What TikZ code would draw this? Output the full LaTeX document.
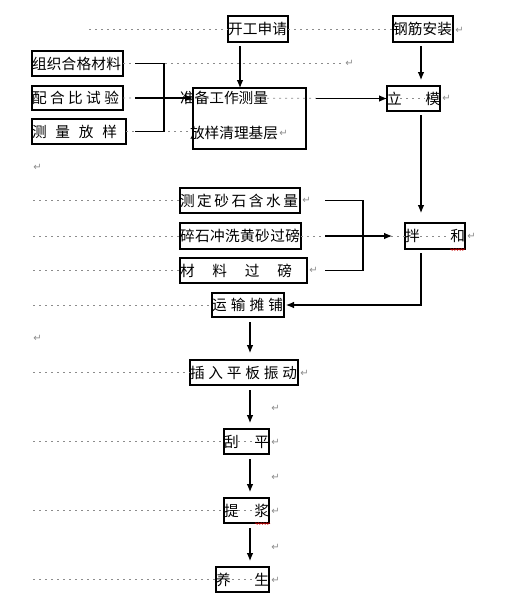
\documentclass[tikz,border=0pt]{standalone}
\usepackage{fontspec}
\newfontfamily\cjk{Noto Sans CJK SC}
\newfontfamily\djv{DejaVu Sans}
\usetikzlibrary{arrows.meta,decorations.pathmorphing}
\tikzset{
 box/.style={draw, line width=0.8pt, inner sep=0pt, outer sep=0pt, anchor=north west, font=\cjk\fontsize{11pt}{12pt}\selectfont},
 lbl/.style={inner sep=0pt, outer sep=0pt, anchor=west, font=\cjk\fontsize{11pt}{12pt}\selectfont},
 arr/.style={line width=0.8pt, -{Latex[length=6pt,width=5pt]}},
 ln/.style={line width=0.8pt},
 dots/.style={black!45, line width=0.55pt, dash pattern=on 1.5pt off 3pt},
 ret/.style={inner sep=0pt, anchor=west, text=black!45, font=\djv\fontsize{7.5pt}{8pt}\selectfont},
 wavy/.style={red!80!black, line width=0.45pt, decorate, decoration={snake, segment length=2pt, amplitude=0.6pt}}
}
\newcommand\bxn[7]{\node[box, minimum width={(#4-#2)*0.75pt}, minimum height={(#5-#3)*0.75pt}] (#1) at (#2,#3) {\makebox[\dimexpr #4pt*3/4-#2pt*3/4\relax][l]{\makebox[\dimexpr #6pt*3/4\relax]{#7}}};}
\begin{document}
\begin{tikzpicture}[x=0.75pt,y=-0.75pt]
\useasboundingbox (0,0) rectangle (530,603);
% boxes
\bxn{kg}{228}{16}{288}{42}{59}{开\hfill 工\hfill 申\hfill 请}
\bxn{gj}{393}{16}{453}{42}{59}{钢\hfill 筋\hfill 安\hfill 装}
\bxn{zz}{32}{51}{123}{76}{89}{组\hfill 织\hfill 合\hfill 格\hfill 材\hfill 料}
\bxn{ph}{32}{86}{123}{110}{87}{配\hfill 合\hfill 比\hfill 试\hfill 验}
\bxn{cl}{32}{119}{126}{144}{85}{测\hfill 量\hfill 放\hfill 样}
\node[box, minimum width={113*0.75pt}, minimum height={61*0.75pt}] (zb) at (193,88) {};
\node[lbl] (t1) at (180,98) {准备工作测量};
\node[lbl] (t2) at (190,133) {放样清理基层};
\bxn{lm}{387}{86}{440}{111}{53}{立\hfill 模}
\bxn{cd}{180}{188}{300}{213}{118}{测\hfill 定\hfill 砂\hfill 石\hfill 含\hfill 水\hfill 量}
\bxn{sx}{180}{223}{301}{249}{120}{碎\hfill 石\hfill 冲\hfill 洗\hfill 黄\hfill 砂\hfill 过\hfill 磅}
\bxn{cg}{180}{258}{307}{283}{112}{材\hfill 料\hfill 过\hfill 磅}
\bxn{bh}{405}{223}{465}{249}{60}{拌\hfill 和}
\bxn{ys}{212}{293}{284}{317}{71}{运\hfill 输\hfill 摊\hfill 铺}
\bxn{cr}{190}{360}{298}{385}{107}{插\hfill 入\hfill 平\hfill 板\hfill 振\hfill 动}
\bxn{gp}{224}{429}{269}{454}{45}{刮\hfill 平}
\bxn{tj}{224}{498}{269}{523}{45}{提\hfill 浆}
\bxn{yg}{216}{567}{269}{592}{53}{养\hfill 生}
% dotted leader lines
\draw[dots] (89,29) -- (kg.west);
\draw[dots] (kg.east) -- (gj.west);
\draw[dots] (zz.east) -- (343,63.5);
\draw[dots] (ph.east) -- (lm.west);
\draw[dots] (400,98.5) -- (425,98.5);
\draw[dots] (cl.east) -- (190,131.5);
\draw[dots] (33,200.5) -- (cd.west);
\draw[dots] (33,236) -- (sx.west);
\draw[dots] (sx.east) -- (bh.west);
\draw[dots] (420,236) -- (450,236);
\draw[dots] (33,270.5) -- (cg.west);
\draw[dots] (33,305) -- (ys.west);
\draw[dots] (33,372.5) -- (cr.west);
\draw[dots] (33,441.5) -- (gp.west);
\draw[dots] (238,441.5) -- (255,441.5);
\draw[dots] (33,510.5) -- (tj.west);
\draw[dots] (238,510.5) -- (255,510.5);
\draw[dots] (33,579.5) -- (yg.west);
\draw[dots] (232,579.5) -- (253,579.5);
% return marks
\node[ret] (r1) at (455,30) {↵};
\node[ret] (r2) at (345,63) {↵};
\node[ret] (r3) at (442,98) {↵};
\node[ret] (r4) at (279,133) {↵};
\node[ret] (r5) at (33,167) {↵};
\node[ret] (r6) at (302,200) {↵};
\node[ret] (r7) at (467,236) {↵};
\node[ret] (r8) at (309,270) {↵};
\node[ret] (r9) at (33,338) {↵};
\node[ret] (r10) at (300,373) {↵};
\node[ret] (r11) at (271,408) {↵};
\node[ret] (r12) at (271,442) {↵};
\node[ret] (r13) at (271,477) {↵};
\node[ret] (r14) at (271,511) {↵};
\node[ret] (r15) at (271,547) {↵};
\node[ret] (r16) at (271,580) {↵};
% spelling squiggles
\draw[wavy] (450,249.5) -- (465,249.5);
\draw[wavy] (255,523.5) -- (270,523.5);
% connectors
\draw[arr] ([shift={(12,4)}]kg.south west) -- ([shift={(47,0)}]zb.north west);
\draw[arr] ([shift={(28,4)}]gj.south west) -- ([shift={(34,-6)}]lm.north west);
\draw[ln] ([shift={(12,0)}]zz.east) -- ++(29,0) |- ([shift={(9,0)}]cl.east);
\draw[arr] ([shift={(12,0)}]ph.east) -- (zb.west |- ph.east);
\draw[arr] ([shift={(10,0)}]zb.east |- lm.west) -- (lm.west);
\draw[arr] ([shift={(34,4)}]lm.south west) -- ([shift={(16,-10)}]bh.north west);
\draw[ln] ([shift={(25,0)}]cd.east) -- ++(38,0) |- ([shift={(18,0)}]cg.east);
\draw[arr] ([shift={(24,0)}]sx.east) -- ([shift={(-13,0)}]bh.west);
\draw[arr] ([shift={(16,4)}]bh.south west) |- ([shift={(2,0)}]ys.east);
\draw[arr] ([shift={(38,5)}]ys.south west) -- ([shift={(60,-7)}]cr.north west);
\draw[arr] ([shift={(60,5)}]cr.south west) -- ([shift={(26,-6)}]gp.north west);
\draw[arr] ([shift={(26,5)}]gp.south west) -- ([shift={(26,-6)}]tj.north west);
\draw[arr] ([shift={(26,5)}]tj.south west) -- ([shift={(34,-6)}]yg.north west);
\end{tikzpicture}
\end{document}
